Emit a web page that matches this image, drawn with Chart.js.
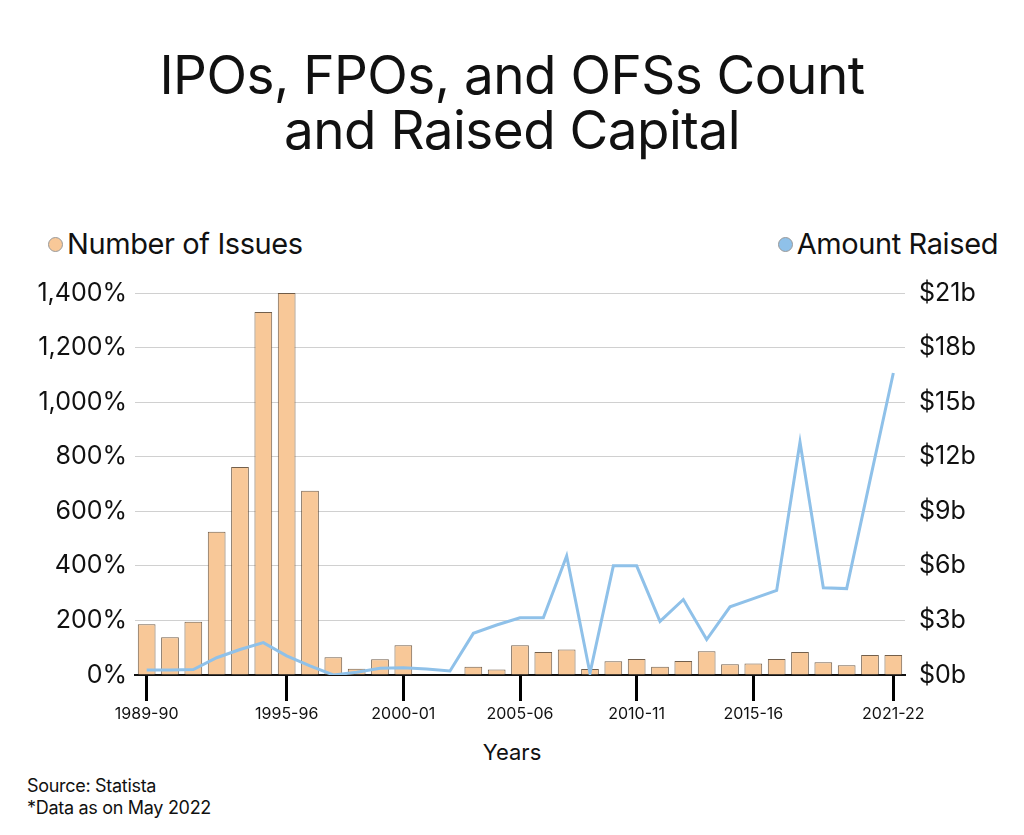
<!DOCTYPE html>
<html>
<head>
<meta charset="utf-8">
<script src="https://cdn.jsdelivr.net/npm/chart.js@4"></script>
<style>
  html, body { margin: 0; padding: 0; background: #fff; }
  body { width: 1024px; height: 835px; position: relative; overflow: hidden; font-family: Inter, "Noto Sans", sans-serif; color: #111; }
  #title { position: absolute; left: 0; width: 1024px; top: 48px; text-align: center; font-size: 53px; line-height: 55px; font-weight: 400; letter-spacing: -0.5px; }
  .leg { position: absolute; top: 227px; font-size: 29px; line-height: 34px; letter-spacing: -0.4px; }
  .leg i { display: inline-block; width: 13px; height: 13px; border-radius: 50%; border: 1px solid #9a9a9a; margin-right: 4px; vertical-align: 2px; }
  #years { position: absolute; left: 0; width: 1024px; top: 739px; text-align: center; font-size: 22px; }
  .note { position: absolute; left: 27px; font-size: 18px; letter-spacing: -0.3px; }
  canvas { position: absolute; left: 0; top: 0; }
</style>
</head>
<body>
<div id="title">IPOs, FPOs, and OFSs Count<br>and Raised Capital</div>
<div class="leg" style="left:48px"><i style="background:#f8c898"></i>Number of Issues</div>
<div class="leg" style="right:26px"><i style="background:#8fc1e9"></i>Amount Raised</div>
<div id="years">Years</div>
<div class="note" style="top:775px">Source: Statista</div>
<div class="note" style="top:797px">*Data as on May 2022</div>
<canvas id="myChart" width="1024" height="835"></canvas>
<script>
// categories (fiscal years)
const years = ['1989-90', '1990-91', '1991-92', '1992-93', '1993-94', '1994-95', '1995-96', '1996-97',
    '1997-98', '1998-99', '1999-00', '2000-01', '2001-02', '2002-03', '2003-04', '2004-05', '2005-06',
    '2006-07', '2007-08', '2008-09', '2009-10', '2010-11', '2011-12', '2012-13', '2013-14', '2014-15',
    '2015-16', '2016-17', '2017-18', '2018-19', '2019-20', '2020-21', '2021-22'];

// number of issues, in %
const issues = [186, 138, 195, 525, 762, 1330, 1400, 675, 65, 23, 58, 109, 0, 0, 30, 20, 109,
    84, 93, 22, 50, 59, 30, 51, 87, 39, 42, 59, 84, 47, 36, 73, 73];

// amount raised, in $ billions
const raised = [0.27, 0.27, 0.3, 0.95, 1.4, 1.78, 1.05, 0.5, 0, 0.15, 0.37, 0.4, 0.33, 0.22, 2.29,
    2.75, 3.15, 3.15, 6.55, 0.1, 6.0, 6.0, 2.95, 4.15, 1.95, 3.75, 4.2, 4.65, 12.8, 4.8, 4.75, 10.7, 16.6];

// only these years get a label and a tick mark
const shownYears = ['1989-90', '1995-96', '2000-01', '2005-06', '2010-11', '2015-16', '2021-22'];

const FONT = 'Inter, "Noto Sans", sans-serif';

var ctx = document.getElementById('myChart').getContext('2d');
var myChart = new Chart(ctx, {
    type: 'bar',
    data: {
        labels: years,
        datasets: [{
            type: 'line',
            label: 'Amount Raised',
            data: raised,
            yAxisID: 'y1',
            borderColor: '#8fc1e9',
            borderWidth: 3,
            pointRadius: 0,
            tension: 0,
            order: 0
        }, {
            label: 'Number of Issues',
            data: issues,
            yAxisID: 'y',
            backgroundColor: '#f8c898',
            borderColor: 'rgba(100, 78, 55, 0.9)',
            borderWidth: 1,
            barPercentage: 0.95,
            categoryPercentage: 0.8,
            order: 1
        }]
    },
    options: {
        responsive: false,
        animation: false,
        layout: { padding: { top: 293, bottom: 100, left: 0, right: 0 } },
        plugins: {
            legend: { display: false },
            tooltip: { enabled: false }
        },
        scales: {
            x: {
                grid: {
                    offset: false,
                    drawOnChartArea: false,
                    color: '#000',
                    tickLength: 26,
                    tickWidth: 3
                },
                border: { color: '#111', width: 2 },
                ticks: {
                    autoSkip: false,
                    maxRotation: 0,
                    padding: 4,
                    color: '#111',
                    font: { family: FONT, size: 16 },
                    callback: function(v, i) {
                        const l = years[i];
                        return shownYears.includes(l) ? l : null;
                    }
                },
                afterFit: function(s) { s.height = 60; }
            },
            y: {
                position: 'left',
                min: 0,
                max: 1400,
                ticks: {
                    stepSize: 200,
                    padding: 8,
                    color: '#111',
                    font: { family: FONT, size: 25 },
                    callback: v => v.toLocaleString('en-US') + '%'
                },
                grid: { color: '#d0d0d0', drawTicks: false },
                border: { display: false },
                afterFit: function(s) { s.width = 135; }
            },
            y1: {
                position: 'right',
                min: 0,
                max: 21,
                ticks: {
                    stepSize: 3,
                    padding: 6,
                    color: '#111',
                    font: { family: FONT, size: 25 },
                    callback: v => '$' + v + 'b'
                },
                grid: { display: false },
                border: { display: false },
                afterFit: function(s) { s.width = 119; }
            }
        }
    }
});
</script>
</body>
</html>
